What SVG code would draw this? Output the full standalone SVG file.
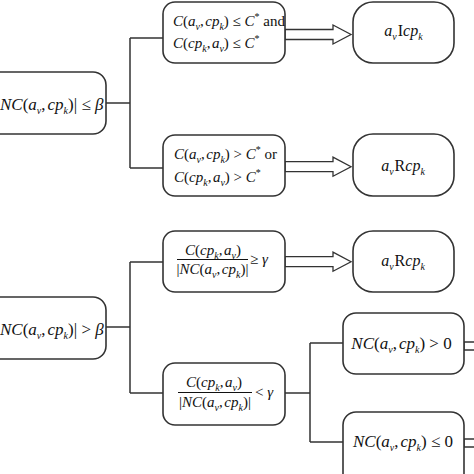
<svg xmlns="http://www.w3.org/2000/svg" width="474" height="474" viewBox="0 0 474 474">
<style>
.box{fill:#fff;stroke:#333;stroke-width:1.6}
.ln{fill:none;stroke:#333;stroke-width:1.5}
.ar{fill:#fff;stroke:#333;stroke-width:1.3;stroke-linejoin:miter}
.t{font-family:"Liberation Serif","Times New Roman",serif;font-size:15px;fill:#111}
.b{font-size:17px}
.r{font-size:16px}
.i{font-style:italic}
.s{font-size:10px}
.fl{stroke:#111;stroke-width:1}
</style>
<rect width="474" height="474" fill="#fff"/>
<g id="connectors">
<path class="ln" d="M106 103H130M130 38V168M130 38H163M130 168H163"/>
<path class="ln" d="M106 327H130M130 262V393M130 262H163M130 393H163"/>
<path class="ln" d="M285 393H310M310 343V442M310 343H343M310 442H343"/>
<polygon class="ar" points="285,29.5 333,29.5 333,25 351,34.5 333,44 333,39.5 285,39.5"/>
<polygon class="ar" points="285,161.7 333,161.7 333,157.2 351,166.7 333,176.2 333,171.7 285,171.7"/>
<polygon class="ar" points="285,256.7 333,256.7 333,252.2 351,261.7 333,271.2 333,266.7 285,266.7"/>
<polygon class="ar" points="464,342 480,342 480,350 464,350"/>
<polygon class="ar" points="464,439 480,439 480,447 464,447"/>
</g>
<g id="n1">
<rect class="box" x="-15" y="72" width="121" height="62" rx="13"/>
<text class="t b" x="0" y="110"><tspan class="i">NC</tspan>(<tspan class="i">a</tspan><tspan class="i s" dy="4">v</tspan><tspan dy="-4">,</tspan><tspan class="i" dx="2">cp</tspan><tspan class="i s" dy="4">k</tspan><tspan dy="-4">)| ≤ </tspan><tspan class="i">β</tspan></text>
</g>
<g id="c1">
<rect class="box" x="163" y="2" width="122" height="61" rx="12"/>
<text class="t" x="173" y="26"><tspan class="i">C</tspan>(<tspan class="i">a</tspan><tspan class="i s" dy="4">v</tspan><tspan dy="-4">,</tspan><tspan class="i" dx="1.5">cp</tspan><tspan class="i s" dy="4">k</tspan><tspan dy="-4">) ≤ </tspan><tspan class="i">C</tspan><tspan class="s" dy="-6">*</tspan><tspan dy="6"> and</tspan></text>
<text class="t" x="173" y="48"><tspan class="i">C</tspan>(<tspan class="i">cp</tspan><tspan class="i s" dy="4">k</tspan><tspan dy="-4">,</tspan><tspan class="i" dx="1.5">a</tspan><tspan class="i s" dy="4">v</tspan><tspan dy="-4">) ≤ </tspan><tspan class="i">C</tspan><tspan class="s" dy="-6">*</tspan></text>
</g>
<g id="c2">
<rect class="box" x="163" y="135" width="122" height="61" rx="12"/>
<text class="t" x="174" y="159"><tspan class="i">C</tspan>(<tspan class="i">a</tspan><tspan class="i s" dy="4">v</tspan><tspan dy="-4">,</tspan><tspan class="i" dx="1.5">cp</tspan><tspan class="i s" dy="4">k</tspan><tspan dy="-4">) &gt; </tspan><tspan class="i">C</tspan><tspan class="s" dy="-6">*</tspan><tspan dy="6"> or</tspan></text>
<text class="t" x="174" y="181.5"><tspan class="i">C</tspan>(<tspan class="i">cp</tspan><tspan class="i s" dy="4">k</tspan><tspan dy="-4">,</tspan><tspan class="i" dx="1.5">a</tspan><tspan class="i s" dy="4">v</tspan><tspan dy="-4">) &gt; </tspan><tspan class="i">C</tspan><tspan class="s" dy="-6">*</tspan></text>
</g>
<g id="r1">
<rect class="box" x="353" y="2" width="101" height="61" rx="20"/>
<text class="t r" x="403.5" y="36" text-anchor="middle"><tspan class="i">a</tspan><tspan class="i s" dy="4">v</tspan><tspan dy="-4" dx="1">I</tspan><tspan class="i">cp</tspan><tspan class="i s" dy="4">k</tspan></text>
</g>
<g id="r2">
<rect class="box" x="353" y="134" width="101" height="62" rx="20"/>
<text class="t r" x="403" y="171" text-anchor="middle"><tspan class="i">a</tspan><tspan class="i s" dy="4">v</tspan><tspan dy="-4" dx="1">R</tspan><tspan class="i">cp</tspan><tspan class="i s" dy="4">k</tspan></text>
</g>
<g id="n2">
<rect class="box" x="-15" y="297" width="121" height="62" rx="13"/>
<text class="t b" x="0" y="335"><tspan class="i">NC</tspan>(<tspan class="i">a</tspan><tspan class="i s" dy="4">v</tspan><tspan dy="-4">,</tspan><tspan class="i" dx="2">cp</tspan><tspan class="i s" dy="4">k</tspan><tspan dy="-4">)| &gt; </tspan><tspan class="i">β</tspan></text>
</g>
<g id="c3">
<rect class="box" x="163" y="231" width="122" height="61" rx="12"/>
<text class="t" x="213" y="255" text-anchor="middle"><tspan class="i">C</tspan>(<tspan class="i">cp</tspan><tspan class="i s" dy="4">k</tspan><tspan dy="-4">,</tspan><tspan class="i" dx="1.5">a</tspan><tspan class="i s" dy="4">v</tspan><tspan dy="-4">)</tspan></text>
<line class="fl" x1="177" y1="259.5" x2="248" y2="259.5"/>
<text class="t" x="212.5" y="273.5" text-anchor="middle">|<tspan class="i">NC</tspan>(<tspan class="i">a</tspan><tspan class="i s" dy="4">v</tspan><tspan dy="-4">,</tspan><tspan class="i" dx="1.5">cp</tspan><tspan class="i s" dy="4">k</tspan><tspan dy="-4">)|</tspan></text>
<text class="t" x="250" y="264">≥ <tspan class="i">γ</tspan></text>
</g>
<g id="c4">
<rect class="box" x="163" y="363" width="122" height="62" rx="12"/>
<text class="t" x="214" y="387" text-anchor="middle"><tspan class="i">C</tspan>(<tspan class="i">cp</tspan><tspan class="i s" dy="4">k</tspan><tspan dy="-4">,</tspan><tspan class="i" dx="1.5">a</tspan><tspan class="i s" dy="4">v</tspan><tspan dy="-4">)</tspan></text>
<line class="fl" x1="178" y1="392.5" x2="252" y2="392.5"/>
<text class="t" x="215" y="407" text-anchor="middle">|<tspan class="i">NC</tspan>(<tspan class="i">a</tspan><tspan class="i s" dy="4">v</tspan><tspan dy="-4">,</tspan><tspan class="i" dx="1.5">cp</tspan><tspan class="i s" dy="4">k</tspan><tspan dy="-4">)|</tspan></text>
<text class="t" x="255" y="397">&lt; <tspan class="i">γ</tspan></text>
</g>
<g id="r3">
<rect class="box" x="353" y="231" width="101" height="61" rx="20"/>
<text class="t r" x="403" y="266" text-anchor="middle"><tspan class="i">a</tspan><tspan class="i s" dy="4">v</tspan><tspan dy="-4" dx="1">R</tspan><tspan class="i">cp</tspan><tspan class="i s" dy="4">k</tspan></text>
</g>
<g id="d1">
<rect class="box" x="343" y="313" width="121" height="61" rx="13"/>
<text class="t b" x="401.5" y="348.5" text-anchor="middle"><tspan class="i">NC</tspan>(<tspan class="i">a</tspan><tspan class="i s" dy="4">v</tspan><tspan dy="-4">,</tspan><tspan class="i" dx="2">cp</tspan><tspan class="i s" dy="4">k</tspan><tspan dy="-4">) &gt; 0</tspan></text>
</g>
<g id="d2">
<rect class="box" x="343" y="412" width="121" height="75" rx="13"/>
<text class="t b" x="403" y="447" text-anchor="middle"><tspan class="i">NC</tspan>(<tspan class="i">a</tspan><tspan class="i s" dy="4">v</tspan><tspan dy="-4">,</tspan><tspan class="i" dx="2">cp</tspan><tspan class="i s" dy="4">k</tspan><tspan dy="-4">) ≤ 0</tspan></text>
</g>
</svg>
